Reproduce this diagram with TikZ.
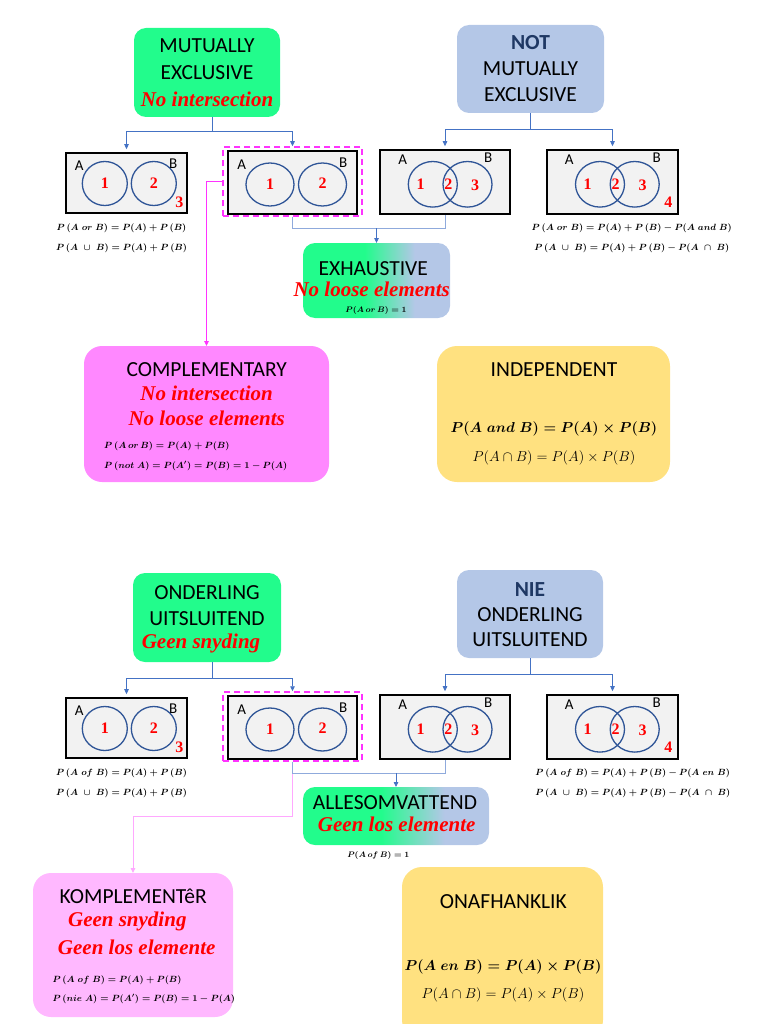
\documentclass[tikz,border=0pt]{standalone}
\usepackage[no-math]{fontspec}
\usepackage{amsmath,amssymb}
\usetikzlibrary{arrows.meta}
\newfontfamily\calfont{Carlito}
\newfontfamily\scrfont{Liberation Serif}
\definecolor{mgreen}{HTML}{22FC8C}
\definecolor{mblue}{HTML}{B4C7E7}
\definecolor{notblue}{HTML}{1F3864}
\definecolor{cpink}{HTML}{FF88FF}
\definecolor{kpink}{HTML}{FFB8FF}
\definecolor{myellow}{HTML}{FFE180}
\definecolor{vgray}{HTML}{F2F2F2}
\definecolor{cblue}{HTML}{2F5597}
\definecolor{lnblue}{HTML}{4472C4}
\definecolor{lnlight}{HTML}{8FAADC}
\definecolor{dmag}{HTML}{FF33FF}
\definecolor{lmag}{HTML}{FFA8FF}
\pgfdeclarehorizontalshading{gbshade}{100bp}{color(0bp)=(mgreen); color(46bp)=(mgreen); color(63bp)=(mblue); color(100bp)=(mblue)}
\tikzset{
 box/.style={rounded corners=12pt, inner sep=0pt, outer sep=0pt},
 ttl/.style={inner sep=0pt, font=\calfont\fontsize{21.5}{21.5}\selectfont},
 scr/.style={inner sep=0pt, text=red, font=\scrfont\bfseries\itshape\fontsize{21}{21}\selectfont},
 lbl/.style={inner sep=0pt, font=\calfont\fontsize{15}{15}\selectfont},
 num/.style={inner sep=0pt, text=red, font=\scrfont\bfseries\fontsize{16}{16}\selectfont},
 frm/.style={inner sep=0pt, font=\fontsize{9}{9}\selectfont\boldmath},
 vbox/.style={draw=black, line width=1.6pt, fill=vgray, inner sep=0pt},
 dbox/.style={draw=dmag, line width=1.5pt, dash pattern=on 6pt off 4pt, inner sep=0pt},
 circ/.style={draw=cblue, line width=1.3pt},
 conn/.style={draw=lnblue, line width=0.8pt},
 connl/.style={draw=lnlight, line width=0.8pt},
 tip/.style={-{Triangle[length=5pt,width=4.5pt]}},
}
\newcommand\vennset[2]{%
\begin{scope}[yshift=-#2pt]
\node[vbox, minimum width=121pt, minimum height=60pt] (#1a) at (126.5,183) {};
\draw[circ] (104.8,183.5) ellipse (22.5 and 22);
\draw[circ] (153.8,183.5) ellipse (22.5 and 22);
\node[lbl] (#1aA) at (79.3,166) {A};
\node[lbl] (#1aB) at (173.3,163.3) {B};
\node[num] (#1a1) at (104.8,183.5) {1};
\node[num] (#1a2) at (153.8,183.5) {2};
\node[num] (#1a3) at (179.3,202.7) {3};
\node[vbox, minimum width=129pt, minimum height=63pt] (#1b) at (292.5,182.5) {};
\node[dbox, minimum width=139pt, minimum height=69pt] (#1d) at (292.5,181.5) {};
\draw[circ] (270,184.5) ellipse (24 and 21.5);
\draw[circ] (322.5,184.5) ellipse (24 and 21.5);
\node[lbl] (#1bA) at (241.7,165) {A};
\node[lbl] (#1bB) at (343.3,162.7) {B};
\node[num] (#1b1) at (270,184) {1};
\node[num] (#1b2) at (322.5,183) {2};
\node[vbox, minimum width=130pt, minimum height=64pt] (#1c) at (445,182) {};
\draw[circ] (432.8,184.3) ellipse (24.5 and 22.8);
\draw[circ] (467.5,184.3) ellipse (24.5 and 22.8);
\node[lbl] (#1cA) at (402.7,159.3) {A};
\node[lbl] (#1cB) at (488.3,157.7) {B};
\node[num] (#1c1) at (420.7,184.3) {1};
\node[num] (#1c2) at (448.3,184) {2};
\node[num] (#1c3) at (475,185.7) {3};
\node[vbox, minimum width=131pt, minimum height=64pt] (#1e) at (612.5,182) {};
\draw[circ] (600,184.3) ellipse (24.5 and 22.8);
\draw[circ] (634.7,184.3) ellipse (24.5 and 22.8);
\node[lbl] (#1eA) at (569.3,159.3) {A};
\node[lbl] (#1eB) at (656.7,157.7) {B};
\node[num] (#1e1) at (587.7,184.3) {1};
\node[num] (#1e2) at (615.7,184) {2};
\node[num] (#1e3) at (642.7,185.7) {3};
\node[num] (#1e4) at (668.3,202.7) {4};
\end{scope}}
\begin{document}
\begin{tikzpicture}[x=1pt,y=-1pt]
\useasboundingbox (0,0) rectangle (768,1024);
% ================= TOP (English) =================
\node[box, fill=mgreen, minimum width=146pt, minimum height=89pt] (me) at (207,72.5) {};
\node[ttl] (me1) at (207,46) {MUTUALLY};
\node[ttl] (me2) at (207,73) {EXCLUSIVE};
\node[scr] (me3) at (207,99) {No intersection};
\node[box, fill=mblue, minimum width=147pt, minimum height=88pt] (nme) at (530.5,69) {};
\node[ttl, text=notblue, font=\calfont\bfseries\fontsize{21.5}{21.5}\selectfont] (nme1) at (530.5,43) {NOT};
\node[ttl] (nme2) at (530.5,68.5) {MUTUALLY};
\node[ttl] (nme3) at (530.5,95) {EXCLUSIVE};
\vennset{t}{0}
\node[frm] (tf1) at (121.5,228.3) {$P\,(A\ or\ B) = P(A) + P\,(B)$};
\node[frm] (tf2) at (121.5,248.3) {$P\,(A\ \cup\ B) = P(A) + P\,(B)$};
\node[frm] (tf3) at (631.7,228.3) {$P\,(A\ or\ B) = P(A) + P\,(B) - P(A\ and\ B)$};
\node[frm] (tf4) at (631.7,248.3) {$P\,(A\ \cup\ B) = P(A) + P\,(B) - P(A\ \cap\ B)$};
% exhaustive
\node[box, shading=gbshade, minimum width=147pt, minimum height=75pt] (exh) at (376.5,280.5) {};
\node[ttl] (exh1) at (373.3,268.3) {EXHAUSTIVE};
\node[scr] (exh2) at (371.7,289.3) {No loose elements};
\node[frm, font=\fontsize{8}{8}\selectfont\boldmath] (exh3) at (376,310) {$P(A\,or\,B) = 1$};
% complementary
\node[box, rounded corners=18pt, fill=cpink, minimum width=245pt, minimum height=136pt] (comp) at (206.5,414) {};
\node[ttl] (comp1) at (206.7,369.3) {COMPLEMENTARY};
\node[scr] (comp2) at (206.7,393.3) {No intersection};
\node[scr] (comp3) at (206.7,418.3) {No loose elements};
\node[frm, anchor=west] (comp4) at (104,446.7) {$P\,(A\,or\,B) = P(A) + P(B)$};
\node[frm, anchor=west] (comp5) at (104,466) {$P\,(not\ A) = P(A') = P(B) = 1 - P(A)$};
% independent
\node[box, rounded corners=20pt, fill=myellow, minimum width=233pt, minimum height=136pt] (ind) at (553.5,414) {};
\node[ttl] (ind1) at (554,369.3) {INDEPENDENT};
\node[frm, font=\fontsize{15}{15}\selectfont\boldmath] (ind2) at (554,429.3) {$P(A\ and\ B) = P(A) \times P(B)$};
\node[frm, font=\fontsize{15.5}{15.5}\selectfont\unboldmath] (ind3) at (554,457.7) {$P(A \cap B) = P(A) \times P(B)$};
% connectors top
\coordinate (j1) at (212,131);
\draw[conn] (me.south -| j1) -- (j1);
\draw[conn, tip, shorten >=3pt] (j1) -| (ta.north);
\draw[conn, tip] (j1) -| (td.north);
\coordinate (j2) at (530.5,129.3);
\draw[conn] (nme.south) -- (j2);
\draw[conn, tip, shorten >=3pt] (j2) -| (tc.north);
\draw[conn, tip, shorten >=3pt] (j2) -| (te.north);
\coordinate (j3) at (376.5,228.3);
\draw[connl] (td.south) |- (j3);
\draw[connl] (tc.south) |- (j3);
\draw[conn, tip] (j3) -- (exh.north);
\draw[draw=dmag, line width=0.9pt, tip] (td.west) -| (comp.north);
% ================= BOTTOM (Afrikaans) =================
\node[box, fill=mgreen, minimum width=148pt, minimum height=89pt] (ou) at (207,617.5) {};
\node[ttl] (ou1) at (207,592.3) {ONDERLING};
\node[ttl] (ou2) at (207,618.3) {UITSLUITEND};
\node[scr] (ou3) at (201,643) {Geen snyding};
\node[box, fill=mblue, minimum width=146pt, minimum height=88pt] (nou) at (530,614) {};
\node[ttl, text=notblue, font=\calfont\bfseries\fontsize{21.5}{21.5}\selectfont] (nou1) at (530,589.3) {NIE};
\node[ttl] (nou2) at (530,614.3) {ONDERLING};
\node[ttl] (nou3) at (530,640) {UITSLUITEND};
\vennset{b}{545}
\node[frm] (bf1) at (121.5,773.3) {$P\,(A\ of\ B) = P(A) + P\,(B)$};
\node[frm] (bf2) at (121.5,793.3) {$P\,(A\ \cup\ B) = P(A) + P\,(B)$};
\node[frm] (bf3) at (632.7,773.3) {$P\,(A\ of\ B) = P(A) + P\,(B) - P(A\ en\ B)$};
\node[frm] (bf4) at (632.7,793.3) {$P\,(A\ \cup\ B) = P(A) + P\,(B) - P(A\ \cap\ B)$};
% allesomvattend
\node[box, shading=gbshade, minimum width=186pt, minimum height=58pt] (all) at (396,816) {};
\node[ttl] (all1) at (395,802.7) {ALLESOMVATTEND};
\node[scr] (all2) at (396.7,824) {Geen los elemente};
\node[frm, font=\fontsize{8}{8}\selectfont\boldmath] (all3) at (378.3,855) {$P(A\,of\,B) = 1$};
% komplementer
\node[box, rounded corners=18pt, fill=kpink, minimum width=200pt, minimum height=144pt] (komp) at (133,945) {};
\node[ttl] (komp1) at (133.3,896.7) {KOMPLEMENTêR};
\node[scr] (komp2) at (127.3,921) {Geen snyding};
\node[scr] (komp3) at (136.7,947.5) {Geen los elemente};
\node[frm, anchor=west] (komp4) at (52.3,980) {$P\,(A\ of\ B) = P(A) + P(B)$};
\node[frm, anchor=west] (komp5) at (52.3,999.3) {$P\,(nie\ A) = P(A') = P(B) = 1 - P(A)$};
% onafhanklik (cut by page edge)
\begin{scope}
\clip (0,0) rectangle (768,1024);
\node[box, rounded corners=20pt, fill=myellow, minimum width=201pt, minimum height=173pt] (onaf) at (502.5,953.5) {};
\end{scope}
\node[ttl] (onaf1) at (503.3,901.7) {ONAFHANKLIK};
\node[frm, font=\fontsize{15}{15}\selectfont\boldmath] (onaf2) at (503,966.7) {$P(A\ en\ B) = P(A) \times P(B)$};
\node[frm, font=\fontsize{15.5}{15.5}\selectfont\unboldmath] (onaf3) at (503,995) {$P(A \cap B) = P(A) \times P(B)$};
% connectors bottom
\coordinate (j4) at (212.3,678.3);
\draw[conn] (ou.south -| j4) -- (j4);
\draw[conn, tip, shorten >=3pt] (j4) -| (ba.north);
\draw[conn, tip] (j4) -| (bd.north);
\coordinate (j5) at (530,674.3);
\draw[conn] (nou.south) -- (j5);
\draw[conn, tip, shorten >=3pt] (j5) -| (bc.north);
\draw[conn, tip, shorten >=3pt] (j5) -| (be.north);
\coordinate (j6) at (396,773.3);
\coordinate (j7) at (133,816.7);
\draw[draw=lmag, line width=0.9pt, tip] (bd.south) |- (j7) -- (komp.north);
\draw[connl] (bd.south) |- (j6);
\draw[connl] (bc.south) |- (j6);
\draw[conn, tip] (j6) -- (all.north);
\end{tikzpicture}
\end{document}
